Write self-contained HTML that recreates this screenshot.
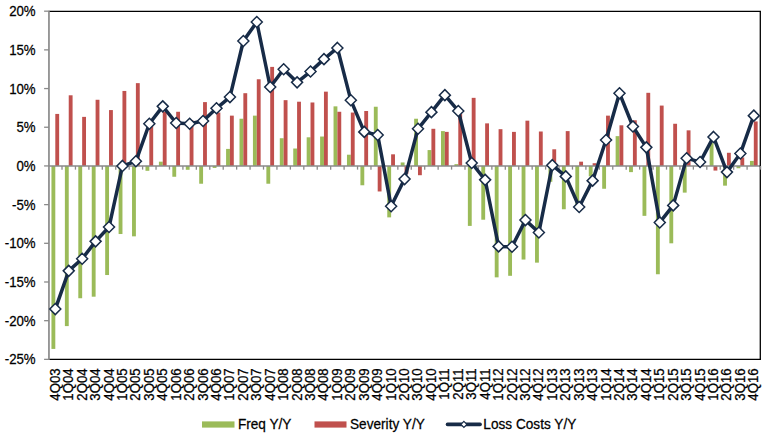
<!DOCTYPE html><html><head><meta charset="utf-8"><style>html,body{margin:0;padding:0;background:#fff;width:770px;height:438px;overflow:hidden}svg{display:block}text{font-family:"Liberation Sans",Arial,sans-serif;font-size:14px;fill:#000;stroke:#000;stroke-width:0.25px}</style></head><body>
<svg width="770" height="438" viewBox="0 0 770 438">
<rect width="770" height="438" fill="#fff"/>
<rect x="51.45" y="165.93" width="3.85" height="182.99" fill="#9bbb59"/>
<rect x="55.30" y="113.93" width="3.85" height="52.00" fill="#c0504d"/>
<rect x="64.88" y="165.93" width="3.85" height="160.17" fill="#9bbb59"/>
<rect x="68.73" y="95.29" width="3.85" height="70.64" fill="#c0504d"/>
<rect x="78.31" y="165.93" width="3.85" height="132.31" fill="#9bbb59"/>
<rect x="82.16" y="116.87" width="3.85" height="49.06" fill="#c0504d"/>
<rect x="91.75" y="165.93" width="3.85" height="130.76" fill="#9bbb59"/>
<rect x="95.60" y="99.77" width="3.85" height="66.16" fill="#c0504d"/>
<rect x="105.18" y="165.93" width="3.85" height="109.10" fill="#9bbb59"/>
<rect x="109.03" y="110.07" width="3.85" height="55.86" fill="#c0504d"/>
<rect x="118.61" y="165.93" width="3.85" height="68.09" fill="#9bbb59"/>
<rect x="122.46" y="90.95" width="3.85" height="74.98" fill="#c0504d"/>
<rect x="132.04" y="165.93" width="3.85" height="70.41" fill="#9bbb59"/>
<rect x="135.89" y="83.14" width="3.85" height="82.79" fill="#c0504d"/>
<rect x="145.48" y="165.93" width="3.85" height="4.87" fill="#9bbb59"/>
<rect x="149.33" y="125.70" width="3.85" height="40.23" fill="#c0504d"/>
<rect x="158.91" y="161.67" width="3.85" height="4.26" fill="#9bbb59"/>
<rect x="162.76" y="111.77" width="3.85" height="54.16" fill="#c0504d"/>
<rect x="172.34" y="165.93" width="3.85" height="10.83" fill="#9bbb59"/>
<rect x="176.19" y="111.77" width="3.85" height="54.16" fill="#c0504d"/>
<rect x="185.78" y="165.93" width="3.85" height="3.87" fill="#9bbb59"/>
<rect x="189.63" y="120.28" width="3.85" height="45.65" fill="#c0504d"/>
<rect x="199.21" y="165.93" width="3.85" height="17.80" fill="#9bbb59"/>
<rect x="203.06" y="102.10" width="3.85" height="63.83" fill="#c0504d"/>
<rect x="212.64" y="165.93" width="3.85" height="2.01" fill="#9bbb59"/>
<rect x="216.49" y="112.54" width="3.85" height="53.39" fill="#c0504d"/>
<rect x="226.08" y="148.91" width="3.85" height="17.02" fill="#9bbb59"/>
<rect x="229.93" y="115.64" width="3.85" height="50.29" fill="#c0504d"/>
<rect x="239.51" y="118.73" width="3.85" height="47.20" fill="#9bbb59"/>
<rect x="243.36" y="93.20" width="3.85" height="72.73" fill="#c0504d"/>
<rect x="252.94" y="115.64" width="3.85" height="50.29" fill="#9bbb59"/>
<rect x="256.79" y="79.27" width="3.85" height="86.66" fill="#c0504d"/>
<rect x="266.37" y="165.93" width="3.85" height="17.80" fill="#9bbb59"/>
<rect x="270.22" y="66.89" width="3.85" height="99.04" fill="#c0504d"/>
<rect x="279.81" y="138.23" width="3.85" height="27.70" fill="#9bbb59"/>
<rect x="283.66" y="100.16" width="3.85" height="65.77" fill="#c0504d"/>
<rect x="293.24" y="148.52" width="3.85" height="17.41" fill="#9bbb59"/>
<rect x="297.09" y="101.71" width="3.85" height="64.22" fill="#c0504d"/>
<rect x="306.67" y="137.30" width="3.85" height="28.63" fill="#9bbb59"/>
<rect x="310.52" y="102.48" width="3.85" height="63.45" fill="#c0504d"/>
<rect x="320.11" y="136.53" width="3.85" height="29.40" fill="#9bbb59"/>
<rect x="323.96" y="91.65" width="3.85" height="74.28" fill="#c0504d"/>
<rect x="333.54" y="106.35" width="3.85" height="59.58" fill="#9bbb59"/>
<rect x="337.39" y="111.77" width="3.85" height="54.16" fill="#c0504d"/>
<rect x="346.97" y="154.71" width="3.85" height="11.22" fill="#9bbb59"/>
<rect x="350.82" y="112.54" width="3.85" height="53.39" fill="#c0504d"/>
<rect x="360.41" y="165.93" width="3.85" height="19.34" fill="#9bbb59"/>
<rect x="364.26" y="110.99" width="3.85" height="54.94" fill="#c0504d"/>
<rect x="373.84" y="106.74" width="3.85" height="59.19" fill="#9bbb59"/>
<rect x="377.69" y="165.93" width="3.85" height="25.53" fill="#c0504d"/>
<rect x="387.27" y="165.93" width="3.85" height="51.45" fill="#9bbb59"/>
<rect x="391.12" y="154.32" width="3.85" height="11.61" fill="#c0504d"/>
<rect x="400.70" y="162.45" width="3.85" height="3.48" fill="#9bbb59"/>
<rect x="404.55" y="165.93" width="3.85" height="7.74" fill="#c0504d"/>
<rect x="414.14" y="118.73" width="3.85" height="47.20" fill="#9bbb59"/>
<rect x="417.99" y="165.93" width="3.85" height="9.28" fill="#c0504d"/>
<rect x="427.57" y="150.07" width="3.85" height="15.86" fill="#9bbb59"/>
<rect x="431.42" y="128.79" width="3.85" height="37.14" fill="#c0504d"/>
<rect x="441.00" y="131.11" width="3.85" height="34.82" fill="#9bbb59"/>
<rect x="444.85" y="131.88" width="3.85" height="34.05" fill="#c0504d"/>
<rect x="454.44" y="164.15" width="3.85" height="1.78" fill="#9bbb59"/>
<rect x="458.29" y="114.09" width="3.85" height="51.84" fill="#c0504d"/>
<rect x="467.87" y="165.93" width="3.85" height="59.97" fill="#9bbb59"/>
<rect x="471.72" y="97.84" width="3.85" height="68.09" fill="#c0504d"/>
<rect x="481.30" y="165.93" width="3.85" height="53.78" fill="#9bbb59"/>
<rect x="485.15" y="123.37" width="3.85" height="42.56" fill="#c0504d"/>
<rect x="494.74" y="165.93" width="3.85" height="111.42" fill="#9bbb59"/>
<rect x="498.59" y="129.18" width="3.85" height="36.75" fill="#c0504d"/>
<rect x="508.17" y="165.93" width="3.85" height="109.87" fill="#9bbb59"/>
<rect x="512.02" y="131.88" width="3.85" height="34.05" fill="#c0504d"/>
<rect x="521.60" y="165.93" width="3.85" height="93.62" fill="#9bbb59"/>
<rect x="525.45" y="120.67" width="3.85" height="45.26" fill="#c0504d"/>
<rect x="535.03" y="165.93" width="3.85" height="96.72" fill="#9bbb59"/>
<rect x="538.88" y="131.50" width="3.85" height="34.43" fill="#c0504d"/>
<rect x="548.47" y="165.93" width="3.85" height="15.86" fill="#9bbb59"/>
<rect x="552.32" y="149.29" width="3.85" height="16.64" fill="#c0504d"/>
<rect x="561.90" y="165.93" width="3.85" height="43.33" fill="#9bbb59"/>
<rect x="565.75" y="131.11" width="3.85" height="34.82" fill="#c0504d"/>
<rect x="575.33" y="165.93" width="3.85" height="38.69" fill="#9bbb59"/>
<rect x="579.18" y="161.67" width="3.85" height="4.26" fill="#c0504d"/>
<rect x="588.77" y="165.93" width="3.85" height="10.45" fill="#9bbb59"/>
<rect x="592.62" y="163.22" width="3.85" height="2.71" fill="#c0504d"/>
<rect x="602.20" y="165.93" width="3.85" height="22.83" fill="#9bbb59"/>
<rect x="606.05" y="115.64" width="3.85" height="50.29" fill="#c0504d"/>
<rect x="615.63" y="136.14" width="3.85" height="29.79" fill="#9bbb59"/>
<rect x="619.48" y="125.31" width="3.85" height="40.62" fill="#c0504d"/>
<rect x="629.07" y="165.93" width="3.85" height="6.19" fill="#9bbb59"/>
<rect x="632.92" y="120.28" width="3.85" height="45.65" fill="#c0504d"/>
<rect x="642.50" y="165.93" width="3.85" height="49.91" fill="#9bbb59"/>
<rect x="646.35" y="92.81" width="3.85" height="73.12" fill="#c0504d"/>
<rect x="655.93" y="165.93" width="3.85" height="108.32" fill="#9bbb59"/>
<rect x="659.78" y="105.58" width="3.85" height="60.35" fill="#c0504d"/>
<rect x="669.36" y="165.93" width="3.85" height="77.38" fill="#9bbb59"/>
<rect x="673.21" y="123.76" width="3.85" height="42.17" fill="#c0504d"/>
<rect x="682.80" y="165.93" width="3.85" height="26.69" fill="#9bbb59"/>
<rect x="686.65" y="130.34" width="3.85" height="35.59" fill="#c0504d"/>
<rect x="700.08" y="162.06" width="3.85" height="3.87" fill="#c0504d"/>
<rect x="709.66" y="143.10" width="3.85" height="22.83" fill="#9bbb59"/>
<rect x="713.51" y="165.93" width="3.85" height="4.64" fill="#c0504d"/>
<rect x="723.10" y="165.93" width="3.85" height="19.73" fill="#9bbb59"/>
<rect x="726.95" y="152.78" width="3.85" height="13.15" fill="#c0504d"/>
<rect x="736.53" y="165.93" width="3.85" height="2.32" fill="#9bbb59"/>
<rect x="740.38" y="157.42" width="3.85" height="8.51" fill="#c0504d"/>
<rect x="749.96" y="160.90" width="3.85" height="5.03" fill="#9bbb59"/>
<rect x="753.81" y="121.44" width="3.85" height="44.49" fill="#c0504d"/>
<line x1="48.58" y1="165.93" x2="760.53" y2="165.93" stroke="#8a8a8a" stroke-width="1.5"/>
<line x1="48.95" y1="11.35" x2="760.95" y2="11.35" stroke="#000" stroke-width="1.3"/>
<line x1="760.30" y1="11.35" x2="760.30" y2="359.40" stroke="#000" stroke-width="1.3"/>
<line x1="48.95" y1="359.40" x2="760.95" y2="359.40" stroke="#000" stroke-width="1.4"/>
<line x1="62.01" y1="165.93" x2="62.01" y2="169.63" stroke="#8a8a8a" stroke-width="1.3"/>
<line x1="75.45" y1="165.93" x2="75.45" y2="169.63" stroke="#8a8a8a" stroke-width="1.3"/>
<line x1="88.88" y1="165.93" x2="88.88" y2="169.63" stroke="#8a8a8a" stroke-width="1.3"/>
<line x1="102.31" y1="165.93" x2="102.31" y2="169.63" stroke="#8a8a8a" stroke-width="1.3"/>
<line x1="115.74" y1="165.93" x2="115.74" y2="169.63" stroke="#8a8a8a" stroke-width="1.3"/>
<line x1="129.18" y1="165.93" x2="129.18" y2="169.63" stroke="#8a8a8a" stroke-width="1.3"/>
<line x1="142.61" y1="165.93" x2="142.61" y2="169.63" stroke="#8a8a8a" stroke-width="1.3"/>
<line x1="156.04" y1="165.93" x2="156.04" y2="169.63" stroke="#8a8a8a" stroke-width="1.3"/>
<line x1="169.48" y1="165.93" x2="169.48" y2="169.63" stroke="#8a8a8a" stroke-width="1.3"/>
<line x1="182.91" y1="165.93" x2="182.91" y2="169.63" stroke="#8a8a8a" stroke-width="1.3"/>
<line x1="196.34" y1="165.93" x2="196.34" y2="169.63" stroke="#8a8a8a" stroke-width="1.3"/>
<line x1="209.78" y1="165.93" x2="209.78" y2="169.63" stroke="#8a8a8a" stroke-width="1.3"/>
<line x1="223.21" y1="165.93" x2="223.21" y2="169.63" stroke="#8a8a8a" stroke-width="1.3"/>
<line x1="236.64" y1="165.93" x2="236.64" y2="169.63" stroke="#8a8a8a" stroke-width="1.3"/>
<line x1="250.07" y1="165.93" x2="250.07" y2="169.63" stroke="#8a8a8a" stroke-width="1.3"/>
<line x1="263.51" y1="165.93" x2="263.51" y2="169.63" stroke="#8a8a8a" stroke-width="1.3"/>
<line x1="276.94" y1="165.93" x2="276.94" y2="169.63" stroke="#8a8a8a" stroke-width="1.3"/>
<line x1="290.37" y1="165.93" x2="290.37" y2="169.63" stroke="#8a8a8a" stroke-width="1.3"/>
<line x1="303.81" y1="165.93" x2="303.81" y2="169.63" stroke="#8a8a8a" stroke-width="1.3"/>
<line x1="317.24" y1="165.93" x2="317.24" y2="169.63" stroke="#8a8a8a" stroke-width="1.3"/>
<line x1="330.67" y1="165.93" x2="330.67" y2="169.63" stroke="#8a8a8a" stroke-width="1.3"/>
<line x1="344.11" y1="165.93" x2="344.11" y2="169.63" stroke="#8a8a8a" stroke-width="1.3"/>
<line x1="357.54" y1="165.93" x2="357.54" y2="169.63" stroke="#8a8a8a" stroke-width="1.3"/>
<line x1="370.97" y1="165.93" x2="370.97" y2="169.63" stroke="#8a8a8a" stroke-width="1.3"/>
<line x1="384.40" y1="165.93" x2="384.40" y2="169.63" stroke="#8a8a8a" stroke-width="1.3"/>
<line x1="397.84" y1="165.93" x2="397.84" y2="169.63" stroke="#8a8a8a" stroke-width="1.3"/>
<line x1="411.27" y1="165.93" x2="411.27" y2="169.63" stroke="#8a8a8a" stroke-width="1.3"/>
<line x1="424.70" y1="165.93" x2="424.70" y2="169.63" stroke="#8a8a8a" stroke-width="1.3"/>
<line x1="438.14" y1="165.93" x2="438.14" y2="169.63" stroke="#8a8a8a" stroke-width="1.3"/>
<line x1="451.57" y1="165.93" x2="451.57" y2="169.63" stroke="#8a8a8a" stroke-width="1.3"/>
<line x1="465.00" y1="165.93" x2="465.00" y2="169.63" stroke="#8a8a8a" stroke-width="1.3"/>
<line x1="478.44" y1="165.93" x2="478.44" y2="169.63" stroke="#8a8a8a" stroke-width="1.3"/>
<line x1="491.87" y1="165.93" x2="491.87" y2="169.63" stroke="#8a8a8a" stroke-width="1.3"/>
<line x1="505.30" y1="165.93" x2="505.30" y2="169.63" stroke="#8a8a8a" stroke-width="1.3"/>
<line x1="518.74" y1="165.93" x2="518.74" y2="169.63" stroke="#8a8a8a" stroke-width="1.3"/>
<line x1="532.17" y1="165.93" x2="532.17" y2="169.63" stroke="#8a8a8a" stroke-width="1.3"/>
<line x1="545.60" y1="165.93" x2="545.60" y2="169.63" stroke="#8a8a8a" stroke-width="1.3"/>
<line x1="559.03" y1="165.93" x2="559.03" y2="169.63" stroke="#8a8a8a" stroke-width="1.3"/>
<line x1="572.47" y1="165.93" x2="572.47" y2="169.63" stroke="#8a8a8a" stroke-width="1.3"/>
<line x1="585.90" y1="165.93" x2="585.90" y2="169.63" stroke="#8a8a8a" stroke-width="1.3"/>
<line x1="599.33" y1="165.93" x2="599.33" y2="169.63" stroke="#8a8a8a" stroke-width="1.3"/>
<line x1="612.77" y1="165.93" x2="612.77" y2="169.63" stroke="#8a8a8a" stroke-width="1.3"/>
<line x1="626.20" y1="165.93" x2="626.20" y2="169.63" stroke="#8a8a8a" stroke-width="1.3"/>
<line x1="639.63" y1="165.93" x2="639.63" y2="169.63" stroke="#8a8a8a" stroke-width="1.3"/>
<line x1="653.07" y1="165.93" x2="653.07" y2="169.63" stroke="#8a8a8a" stroke-width="1.3"/>
<line x1="666.50" y1="165.93" x2="666.50" y2="169.63" stroke="#8a8a8a" stroke-width="1.3"/>
<line x1="679.93" y1="165.93" x2="679.93" y2="169.63" stroke="#8a8a8a" stroke-width="1.3"/>
<line x1="693.36" y1="165.93" x2="693.36" y2="169.63" stroke="#8a8a8a" stroke-width="1.3"/>
<line x1="706.80" y1="165.93" x2="706.80" y2="169.63" stroke="#8a8a8a" stroke-width="1.3"/>
<line x1="720.23" y1="165.93" x2="720.23" y2="169.63" stroke="#8a8a8a" stroke-width="1.3"/>
<line x1="733.66" y1="165.93" x2="733.66" y2="169.63" stroke="#8a8a8a" stroke-width="1.3"/>
<line x1="747.10" y1="165.93" x2="747.10" y2="169.63" stroke="#8a8a8a" stroke-width="1.3"/>
<line x1="760.53" y1="165.93" x2="760.53" y2="169.63" stroke="#8a8a8a" stroke-width="1.3"/>
<line x1="48.95" y1="10.70" x2="48.95" y2="360.10" stroke="#8a8a8a" stroke-width="1.7"/>
<line x1="44.1" y1="11.18" x2="48.95" y2="11.18" stroke="#8a8a8a" stroke-width="1.3"/>
<text transform="translate(35.6,16.18) scale(0.945,1)" text-anchor="end">20%</text>
<line x1="44.1" y1="49.87" x2="48.95" y2="49.87" stroke="#8a8a8a" stroke-width="1.3"/>
<text transform="translate(35.6,54.87) scale(0.945,1)" text-anchor="end">15%</text>
<line x1="44.1" y1="88.56" x2="48.95" y2="88.56" stroke="#8a8a8a" stroke-width="1.3"/>
<text transform="translate(35.6,93.56) scale(0.945,1)" text-anchor="end">10%</text>
<line x1="44.1" y1="127.24" x2="48.95" y2="127.24" stroke="#8a8a8a" stroke-width="1.3"/>
<text transform="translate(35.6,132.24) scale(0.945,1)" text-anchor="end">5%</text>
<line x1="44.1" y1="165.93" x2="48.95" y2="165.93" stroke="#8a8a8a" stroke-width="1.3"/>
<text transform="translate(35.6,170.93) scale(0.945,1)" text-anchor="end">0%</text>
<line x1="44.1" y1="204.62" x2="48.95" y2="204.62" stroke="#8a8a8a" stroke-width="1.3"/>
<text transform="translate(35.6,209.62) scale(0.945,1)" text-anchor="end">-5%</text>
<line x1="44.1" y1="243.31" x2="48.95" y2="243.31" stroke="#8a8a8a" stroke-width="1.3"/>
<text transform="translate(35.6,248.31) scale(0.945,1)" text-anchor="end">-10%</text>
<line x1="44.1" y1="281.99" x2="48.95" y2="281.99" stroke="#8a8a8a" stroke-width="1.3"/>
<text transform="translate(35.6,286.99) scale(0.945,1)" text-anchor="end">-15%</text>
<line x1="44.1" y1="320.68" x2="48.95" y2="320.68" stroke="#8a8a8a" stroke-width="1.3"/>
<text transform="translate(35.6,325.68) scale(0.945,1)" text-anchor="end">-20%</text>
<line x1="44.1" y1="359.37" x2="48.95" y2="359.37" stroke="#8a8a8a" stroke-width="1.3"/>
<text transform="translate(35.6,364.37) scale(0.945,1)" text-anchor="end">-25%</text>
<polyline points="55.30,309.07 68.73,270.85 82.16,258.78 95.60,241.37 109.03,227.06 122.46,165.93 135.89,161.29 149.33,123.76 162.76,106.35 176.19,122.99 189.63,123.76 203.06,121.05 216.49,108.29 229.93,97.07 243.36,40.97 256.79,22.01 270.22,87.01 283.66,69.21 297.09,82.37 310.52,71.53 323.96,59.15 337.39,47.93 350.82,100.16 364.26,131.88 377.69,134.98 391.12,206.17 404.55,179.08 417.99,128.79 431.42,112.15 444.85,95.13 458.29,110.99 471.72,162.99 485.15,179.86 498.59,246.40 512.02,246.79 525.45,220.09 538.88,232.47 552.32,165.16 565.75,176.38 579.18,206.94 592.62,180.63 606.05,140.01 619.48,93.20 632.92,126.47 646.35,147.36 659.78,222.41 673.21,205.39 686.65,158.19 700.08,162.06 713.51,136.91 726.95,172.12 740.38,153.55 753.81,115.64" fill="none" stroke="#172b47" stroke-width="3.5" stroke-linejoin="round"/>
<path d="M55.30,303.57L60.80,309.07L55.30,314.57L49.80,309.07Z" fill="#fff" stroke="#172b47" stroke-width="1.5"/>
<path d="M68.73,265.35L74.23,270.85L68.73,276.35L63.23,270.85Z" fill="#fff" stroke="#172b47" stroke-width="1.5"/>
<path d="M82.16,253.28L87.66,258.78L82.16,264.28L76.66,258.78Z" fill="#fff" stroke="#172b47" stroke-width="1.5"/>
<path d="M95.60,235.87L101.10,241.37L95.60,246.87L90.10,241.37Z" fill="#fff" stroke="#172b47" stroke-width="1.5"/>
<path d="M109.03,221.56L114.53,227.06L109.03,232.56L103.53,227.06Z" fill="#fff" stroke="#172b47" stroke-width="1.5"/>
<path d="M122.46,160.43L127.96,165.93L122.46,171.43L116.96,165.93Z" fill="#fff" stroke="#172b47" stroke-width="1.5"/>
<path d="M135.89,155.79L141.39,161.29L135.89,166.79L130.39,161.29Z" fill="#fff" stroke="#172b47" stroke-width="1.5"/>
<path d="M149.33,118.26L154.83,123.76L149.33,129.26L143.83,123.76Z" fill="#fff" stroke="#172b47" stroke-width="1.5"/>
<path d="M162.76,100.85L168.26,106.35L162.76,111.85L157.26,106.35Z" fill="#fff" stroke="#172b47" stroke-width="1.5"/>
<path d="M176.19,117.49L181.69,122.99L176.19,128.49L170.69,122.99Z" fill="#fff" stroke="#172b47" stroke-width="1.5"/>
<path d="M189.63,118.26L195.13,123.76L189.63,129.26L184.13,123.76Z" fill="#fff" stroke="#172b47" stroke-width="1.5"/>
<path d="M203.06,115.55L208.56,121.05L203.06,126.55L197.56,121.05Z" fill="#fff" stroke="#172b47" stroke-width="1.5"/>
<path d="M216.49,102.79L221.99,108.29L216.49,113.79L210.99,108.29Z" fill="#fff" stroke="#172b47" stroke-width="1.5"/>
<path d="M229.93,91.57L235.43,97.07L229.93,102.57L224.43,97.07Z" fill="#fff" stroke="#172b47" stroke-width="1.5"/>
<path d="M243.36,35.47L248.86,40.97L243.36,46.47L237.86,40.97Z" fill="#fff" stroke="#172b47" stroke-width="1.5"/>
<path d="M256.79,16.51L262.29,22.01L256.79,27.51L251.29,22.01Z" fill="#fff" stroke="#172b47" stroke-width="1.5"/>
<path d="M270.22,81.51L275.72,87.01L270.22,92.51L264.72,87.01Z" fill="#fff" stroke="#172b47" stroke-width="1.5"/>
<path d="M283.66,63.71L289.16,69.21L283.66,74.71L278.16,69.21Z" fill="#fff" stroke="#172b47" stroke-width="1.5"/>
<path d="M297.09,76.87L302.59,82.37L297.09,87.87L291.59,82.37Z" fill="#fff" stroke="#172b47" stroke-width="1.5"/>
<path d="M310.52,66.03L316.02,71.53L310.52,77.03L305.02,71.53Z" fill="#fff" stroke="#172b47" stroke-width="1.5"/>
<path d="M323.96,53.65L329.46,59.15L323.96,64.65L318.46,59.15Z" fill="#fff" stroke="#172b47" stroke-width="1.5"/>
<path d="M337.39,42.43L342.89,47.93L337.39,53.43L331.89,47.93Z" fill="#fff" stroke="#172b47" stroke-width="1.5"/>
<path d="M350.82,94.66L356.32,100.16L350.82,105.66L345.32,100.16Z" fill="#fff" stroke="#172b47" stroke-width="1.5"/>
<path d="M364.26,126.38L369.76,131.88L364.26,137.38L358.76,131.88Z" fill="#fff" stroke="#172b47" stroke-width="1.5"/>
<path d="M377.69,129.48L383.19,134.98L377.69,140.48L372.19,134.98Z" fill="#fff" stroke="#172b47" stroke-width="1.5"/>
<path d="M391.12,200.67L396.62,206.17L391.12,211.67L385.62,206.17Z" fill="#fff" stroke="#172b47" stroke-width="1.5"/>
<path d="M404.55,173.58L410.05,179.08L404.55,184.58L399.05,179.08Z" fill="#fff" stroke="#172b47" stroke-width="1.5"/>
<path d="M417.99,123.29L423.49,128.79L417.99,134.29L412.49,128.79Z" fill="#fff" stroke="#172b47" stroke-width="1.5"/>
<path d="M431.42,106.65L436.92,112.15L431.42,117.65L425.92,112.15Z" fill="#fff" stroke="#172b47" stroke-width="1.5"/>
<path d="M444.85,89.63L450.35,95.13L444.85,100.63L439.35,95.13Z" fill="#fff" stroke="#172b47" stroke-width="1.5"/>
<path d="M458.29,105.49L463.79,110.99L458.29,116.49L452.79,110.99Z" fill="#fff" stroke="#172b47" stroke-width="1.5"/>
<path d="M471.72,157.49L477.22,162.99L471.72,168.49L466.22,162.99Z" fill="#fff" stroke="#172b47" stroke-width="1.5"/>
<path d="M485.15,174.36L490.65,179.86L485.15,185.36L479.65,179.86Z" fill="#fff" stroke="#172b47" stroke-width="1.5"/>
<path d="M498.59,240.90L504.09,246.40L498.59,251.90L493.09,246.40Z" fill="#fff" stroke="#172b47" stroke-width="1.5"/>
<path d="M512.02,241.29L517.52,246.79L512.02,252.29L506.52,246.79Z" fill="#fff" stroke="#172b47" stroke-width="1.5"/>
<path d="M525.45,214.59L530.95,220.09L525.45,225.59L519.95,220.09Z" fill="#fff" stroke="#172b47" stroke-width="1.5"/>
<path d="M538.88,226.97L544.38,232.47L538.88,237.97L533.38,232.47Z" fill="#fff" stroke="#172b47" stroke-width="1.5"/>
<path d="M552.32,159.66L557.82,165.16L552.32,170.66L546.82,165.16Z" fill="#fff" stroke="#172b47" stroke-width="1.5"/>
<path d="M565.75,170.88L571.25,176.38L565.75,181.88L560.25,176.38Z" fill="#fff" stroke="#172b47" stroke-width="1.5"/>
<path d="M579.18,201.44L584.68,206.94L579.18,212.44L573.68,206.94Z" fill="#fff" stroke="#172b47" stroke-width="1.5"/>
<path d="M592.62,175.13L598.12,180.63L592.62,186.13L587.12,180.63Z" fill="#fff" stroke="#172b47" stroke-width="1.5"/>
<path d="M606.05,134.51L611.55,140.01L606.05,145.51L600.55,140.01Z" fill="#fff" stroke="#172b47" stroke-width="1.5"/>
<path d="M619.48,87.70L624.98,93.20L619.48,98.70L613.98,93.20Z" fill="#fff" stroke="#172b47" stroke-width="1.5"/>
<path d="M632.92,120.97L638.42,126.47L632.92,131.97L627.42,126.47Z" fill="#fff" stroke="#172b47" stroke-width="1.5"/>
<path d="M646.35,141.86L651.85,147.36L646.35,152.86L640.85,147.36Z" fill="#fff" stroke="#172b47" stroke-width="1.5"/>
<path d="M659.78,216.91L665.28,222.41L659.78,227.91L654.28,222.41Z" fill="#fff" stroke="#172b47" stroke-width="1.5"/>
<path d="M673.21,199.89L678.71,205.39L673.21,210.89L667.71,205.39Z" fill="#fff" stroke="#172b47" stroke-width="1.5"/>
<path d="M686.65,152.69L692.15,158.19L686.65,163.69L681.15,158.19Z" fill="#fff" stroke="#172b47" stroke-width="1.5"/>
<path d="M700.08,156.56L705.58,162.06L700.08,167.56L694.58,162.06Z" fill="#fff" stroke="#172b47" stroke-width="1.5"/>
<path d="M713.51,131.41L719.01,136.91L713.51,142.41L708.01,136.91Z" fill="#fff" stroke="#172b47" stroke-width="1.5"/>
<path d="M726.95,166.62L732.45,172.12L726.95,177.62L721.45,172.12Z" fill="#fff" stroke="#172b47" stroke-width="1.5"/>
<path d="M740.38,148.05L745.88,153.55L740.38,159.05L734.88,153.55Z" fill="#fff" stroke="#172b47" stroke-width="1.5"/>
<path d="M753.81,110.14L759.31,115.64L753.81,121.14L748.31,115.64Z" fill="#fff" stroke="#172b47" stroke-width="1.5"/>
<text transform="translate(59.80,368.3) rotate(-90) scale(0.945,1)" text-anchor="end">4Q03</text>
<text transform="translate(73.23,368.3) rotate(-90) scale(0.945,1)" text-anchor="end">1Q04</text>
<text transform="translate(86.66,368.3) rotate(-90) scale(0.945,1)" text-anchor="end">2Q04</text>
<text transform="translate(100.10,368.3) rotate(-90) scale(0.945,1)" text-anchor="end">3Q04</text>
<text transform="translate(113.53,368.3) rotate(-90) scale(0.945,1)" text-anchor="end">4Q04</text>
<text transform="translate(126.96,368.3) rotate(-90) scale(0.945,1)" text-anchor="end">1Q05</text>
<text transform="translate(140.39,368.3) rotate(-90) scale(0.945,1)" text-anchor="end">2Q05</text>
<text transform="translate(153.83,368.3) rotate(-90) scale(0.945,1)" text-anchor="end">3Q05</text>
<text transform="translate(167.26,368.3) rotate(-90) scale(0.945,1)" text-anchor="end">4Q05</text>
<text transform="translate(180.69,368.3) rotate(-90) scale(0.945,1)" text-anchor="end">1Q06</text>
<text transform="translate(194.13,368.3) rotate(-90) scale(0.945,1)" text-anchor="end">2Q06</text>
<text transform="translate(207.56,368.3) rotate(-90) scale(0.945,1)" text-anchor="end">3Q06</text>
<text transform="translate(220.99,368.3) rotate(-90) scale(0.945,1)" text-anchor="end">4Q06</text>
<text transform="translate(234.43,368.3) rotate(-90) scale(0.945,1)" text-anchor="end">1Q07</text>
<text transform="translate(247.86,368.3) rotate(-90) scale(0.945,1)" text-anchor="end">2Q07</text>
<text transform="translate(261.29,368.3) rotate(-90) scale(0.945,1)" text-anchor="end">3Q07</text>
<text transform="translate(274.72,368.3) rotate(-90) scale(0.945,1)" text-anchor="end">4Q07</text>
<text transform="translate(288.16,368.3) rotate(-90) scale(0.945,1)" text-anchor="end">1Q08</text>
<text transform="translate(301.59,368.3) rotate(-90) scale(0.945,1)" text-anchor="end">2Q08</text>
<text transform="translate(315.02,368.3) rotate(-90) scale(0.945,1)" text-anchor="end">3Q08</text>
<text transform="translate(328.46,368.3) rotate(-90) scale(0.945,1)" text-anchor="end">4Q08</text>
<text transform="translate(341.89,368.3) rotate(-90) scale(0.945,1)" text-anchor="end">1Q09</text>
<text transform="translate(355.32,368.3) rotate(-90) scale(0.945,1)" text-anchor="end">2Q09</text>
<text transform="translate(368.76,368.3) rotate(-90) scale(0.945,1)" text-anchor="end">3Q09</text>
<text transform="translate(382.19,368.3) rotate(-90) scale(0.945,1)" text-anchor="end">4Q09</text>
<text transform="translate(395.62,368.3) rotate(-90) scale(0.945,1)" text-anchor="end">1Q10</text>
<text transform="translate(409.05,368.3) rotate(-90) scale(0.945,1)" text-anchor="end">2Q10</text>
<text transform="translate(422.49,368.3) rotate(-90) scale(0.945,1)" text-anchor="end">3Q10</text>
<text transform="translate(435.92,368.3) rotate(-90) scale(0.945,1)" text-anchor="end">4Q10</text>
<text transform="translate(449.35,368.3) rotate(-90) scale(0.945,1)" text-anchor="end">1Q11</text>
<text transform="translate(462.79,368.3) rotate(-90) scale(0.945,1)" text-anchor="end">2Q11</text>
<text transform="translate(476.22,368.3) rotate(-90) scale(0.945,1)" text-anchor="end">3Q11</text>
<text transform="translate(489.65,368.3) rotate(-90) scale(0.945,1)" text-anchor="end">4Q11</text>
<text transform="translate(503.09,368.3) rotate(-90) scale(0.945,1)" text-anchor="end">1Q12</text>
<text transform="translate(516.52,368.3) rotate(-90) scale(0.945,1)" text-anchor="end">2Q12</text>
<text transform="translate(529.95,368.3) rotate(-90) scale(0.945,1)" text-anchor="end">3Q12</text>
<text transform="translate(543.38,368.3) rotate(-90) scale(0.945,1)" text-anchor="end">4Q12</text>
<text transform="translate(556.82,368.3) rotate(-90) scale(0.945,1)" text-anchor="end">1Q13</text>
<text transform="translate(570.25,368.3) rotate(-90) scale(0.945,1)" text-anchor="end">2Q13</text>
<text transform="translate(583.68,368.3) rotate(-90) scale(0.945,1)" text-anchor="end">3Q13</text>
<text transform="translate(597.12,368.3) rotate(-90) scale(0.945,1)" text-anchor="end">4Q13</text>
<text transform="translate(610.55,368.3) rotate(-90) scale(0.945,1)" text-anchor="end">1Q14</text>
<text transform="translate(623.98,368.3) rotate(-90) scale(0.945,1)" text-anchor="end">2Q14</text>
<text transform="translate(637.42,368.3) rotate(-90) scale(0.945,1)" text-anchor="end">3Q14</text>
<text transform="translate(650.85,368.3) rotate(-90) scale(0.945,1)" text-anchor="end">4Q14</text>
<text transform="translate(664.28,368.3) rotate(-90) scale(0.945,1)" text-anchor="end">1Q15</text>
<text transform="translate(677.71,368.3) rotate(-90) scale(0.945,1)" text-anchor="end">2Q15</text>
<text transform="translate(691.15,368.3) rotate(-90) scale(0.945,1)" text-anchor="end">3Q15</text>
<text transform="translate(704.58,368.3) rotate(-90) scale(0.945,1)" text-anchor="end">4Q15</text>
<text transform="translate(718.01,368.3) rotate(-90) scale(0.945,1)" text-anchor="end">1Q16</text>
<text transform="translate(731.45,368.3) rotate(-90) scale(0.945,1)" text-anchor="end">2Q16</text>
<text transform="translate(744.88,368.3) rotate(-90) scale(0.945,1)" text-anchor="end">3Q16</text>
<text transform="translate(758.31,368.3) rotate(-90) scale(0.945,1)" text-anchor="end">4Q16</text>
<rect x="202" y="421.4" width="32.5" height="6.2" fill="#9bbb59"/>
<text transform="translate(237.9,428.8) scale(0.975,1)">Freq Y/Y</text>
<rect x="314.5" y="421.4" width="32" height="6.2" fill="#c0504d"/>
<text transform="translate(350.0,428.8) scale(0.975,1)">Severity Y/Y</text>
<line x1="447.5" y1="424.4" x2="480.1" y2="424.4" stroke="#172b47" stroke-width="3.6" stroke-linecap="round"/>
<path d="M463.9,421.4L466.9,424.4L463.9,427.4L460.9,424.4Z" fill="#fff" stroke="#172b47" stroke-width="1.2"/>
<text transform="translate(483.3,428.8) scale(0.975,1)">Loss Costs Y/Y</text>
</svg></body></html>
